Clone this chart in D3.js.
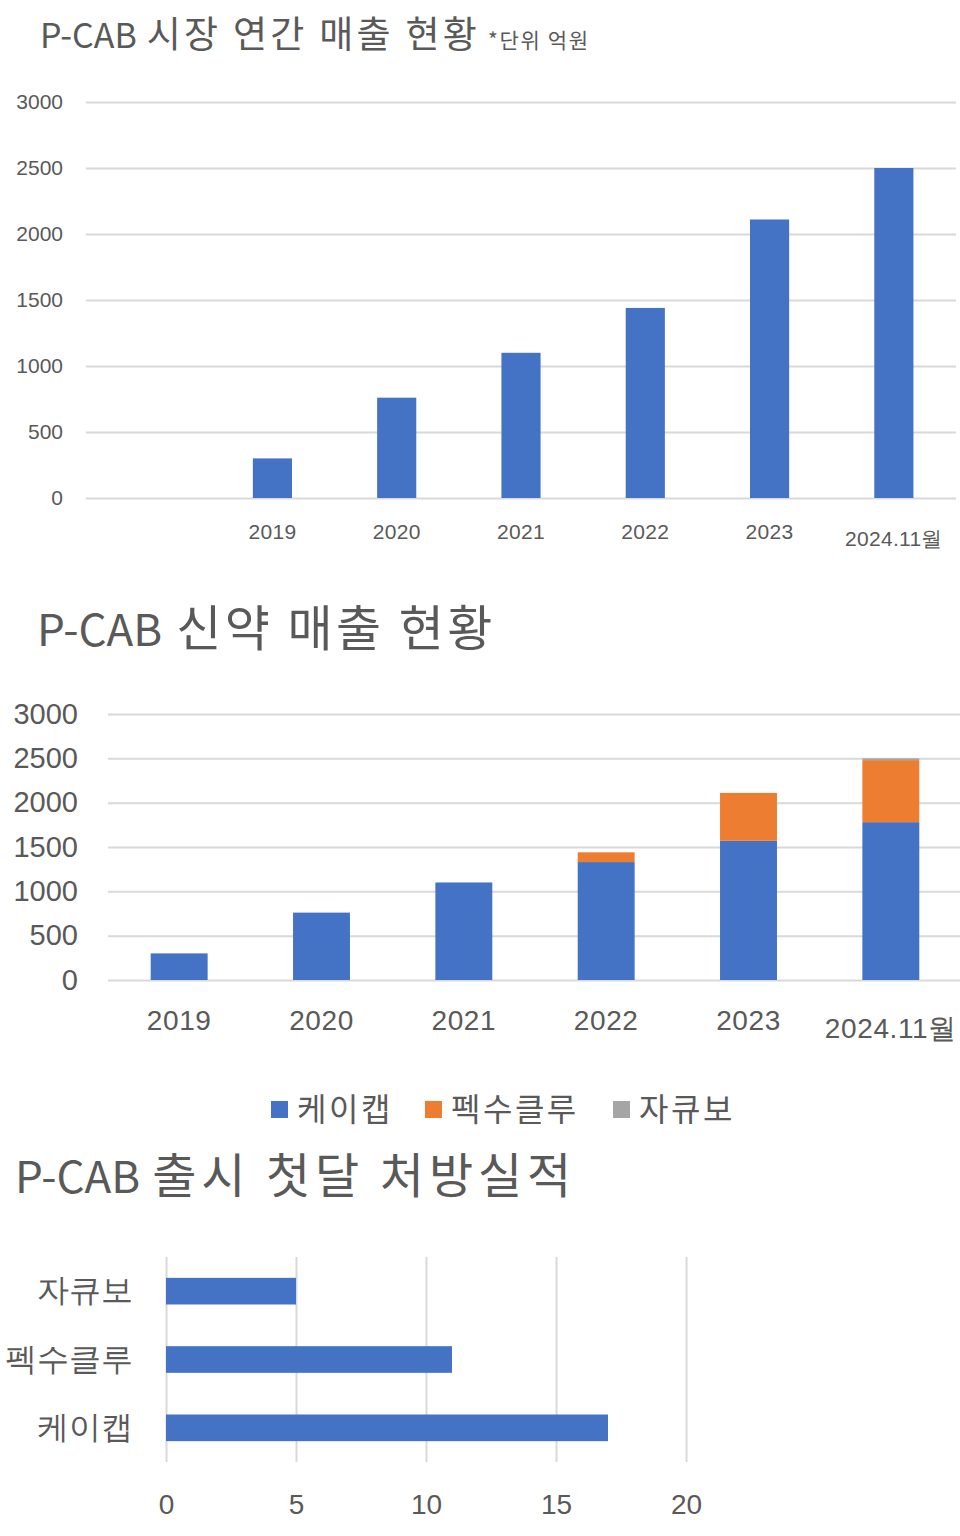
<!DOCTYPE html>
<html>
<head>
<meta charset="utf-8">
<script src="https://cdn.jsdelivr.net/npm/d3@7"></script>
<style>
  body { margin: 0; background: #fff; }
  svg { display: block; font-family: "Noto Sans CJK KR", "Noto Sans", sans-serif; }
  .axis .domain { display: none; }
  .axis text { fill: #595959; }
  .grid line { stroke: #d9d9d9; stroke-width: 2; }
</style>
</head>
<body>
<div id="chart"></div>
<script>
// chart 1 - annual market sales (unit: 100M won)
var years1 = ["", "2019", "2020", "2021", "2022", "2023", "2024.11월"];
var market = [null, 300, 760, 1100, 1440, 2110, 2500];

// chart 2 - sales by new drug (stacked)
var years2 = ["2019", "2020", "2021", "2022", "2023", "2024.11월"];
var drugs = ["케이캡", "펙수클루", "자큐보"];
var kcab = [300, 760, 1100, 1330, 1570, 1780];
var fexu = [0, 0, 0, 110, 540, 700];
var jaqbo = [0, 0, 0, 0, 0, 20];
var colors = ["#4472c4", "#ed7d31", "#a5a5a5"];

// chart 3 - first month prescriptions
var launchDrugs = ["자큐보", "펙수클루", "케이캡"];
var firstMonth = [5, 11, 17];

var yTicks = [0, 500, 1000, 1500, 2000, 2500, 3000];
var xTicks3 = [0, 5, 10, 15, 20];

var svg = d3.select('#chart').append('svg')
  .attr('width', 960)
  .attr('height', 1536);

// title: latin part + korean part (korean glyphs run bigger, like malgun gothic)
function title(g, x, y, latin, latinSize, kor, korSize, korWidth, gap) {
  var t = g.append('text')
    .attr('x', x).attr('y', y)
    .attr('fill', '#595959');
  t.append('tspan')
    .style('font-size', latinSize + 'px')
    .text(latin);
  t.append('tspan')
    .attr('dx', gap)
    .style('font-size', korSize + 'px')
    .attr('textLength', korWidth)
    .attr('lengthAdjust', 'spacing')
    .text(kor);
  return t;
}

// ---------- chart 1 ----------
var g1 = svg.append('g');

var t1 = title(g1, 40, 48, 'P-CAB', 34, '시장 연간 매출 현황', 37, 330, 10);
t1.append('tspan')
  .attr('dx', 8)
  .style('font-size', '21px')
  .attr('textLength', 100)
  .attr('lengthAdjust', 'spacing')
  .text('*단위 억원');

var x1 = d3.scaleBand().domain(years1).range([86, 956]);
var y1 = d3.scaleLinear().domain([0, 3000]).range([498, 102]);

g1.append('g')
  .attr('class', 'axis grid')
  .attr('transform', 'translate(86,0)')
  .call(d3.axisLeft(y1).tickValues(yTicks).tickFormat(d3.format('d')).tickSize(-870).tickPadding(23))
  .selectAll('text').style('font-size', '21px');

var bw1 = x1.bandwidth() * 0.315;
g1.selectAll('rect.bar')
  .data(market.map(function(v, i){ return {k: years1[i], v: v}; }).filter(function(d){ return d.v != null; }))
  .enter().append('rect')
  .attr('class', 'bar')
  .attr('x', function(d){ return x1(d.k) + x1.bandwidth() / 2 - bw1 / 2; })
  .attr('y', function(d){ return y1(d.v); })
  .attr('width', bw1)
  .attr('height', function(d){ return y1(0) - y1(d.v); })
  .attr('fill', '#4472c4');

g1.append('g')
  .attr('class', 'axis')
  .attr('transform', 'translate(0,498)')
  .call(d3.axisBottom(x1).tickSize(0).tickPadding(26))
  .selectAll('text')
  .style('font-size', '21px')
  .style('letter-spacing', '0.3px')
  .attr('dy', function(d){ return d.length > 4 ? '1.05em' : '0.71em'; });

// ---------- chart 2 ----------
var g2 = svg.append('g');

title(g2, 37, 646, 'P-CAB', 44, '신약 매출 현황', 49, 316, 14);

var x2 = d3.scaleBand().domain(years2).range([108, 962]);
var y2 = d3.scaleLinear().domain([0, 3000]).range([980, 714]);

g2.append('g')
  .attr('class', 'axis grid')
  .attr('transform', 'translate(108,0)')
  .call(d3.axisLeft(y2).tickValues(yTicks).tickFormat(d3.format('d')).tickSize(-852).tickPadding(30))
  .selectAll('text').style('font-size', '29px');

var table = years2.map(function(y, i){
  return {year: y, "케이캡": kcab[i], "펙수클루": fexu[i], "자큐보": jaqbo[i]};
});
var stacked = d3.stack().keys(drugs)(table);
var bw2 = x2.bandwidth() * 0.4;

g2.selectAll('g.layer')
  .data(stacked)
  .enter().append('g')
  .attr('class', 'layer')
  .attr('fill', function(d, i){ return colors[i]; })
  .selectAll('rect')
  .data(function(d){ return d.filter(function(p){ return p[1] > p[0]; }); })
  .enter().append('rect')
  .attr('x', function(d){ return x2(d.data.year) + x2.bandwidth() / 2 - bw2 / 2; })
  .attr('y', function(d){ return y2(d[1]); })
  .attr('width', bw2)
  .attr('height', function(d){ return y2(d[0]) - y2(d[1]); });

g2.append('g')
  .attr('class', 'axis')
  .attr('transform', 'translate(0,980)')
  .call(d3.axisBottom(x2).tickSize(0).tickPadding(30))
  .selectAll('text')
  .style('font-size', '28px')
  .style('letter-spacing', '0.6px')
  .attr('dy', function(d){ return d.length > 4 ? '1.0em' : '0.71em'; });

// legend
var legendX = [271, 425, 613];
var legend = g2.selectAll('g.legend')
  .data(drugs)
  .enter().append('g')
  .attr('class', 'legend')
  .attr('transform', function(d, i){ return 'translate(' + legendX[i] + ',1101)'; });
legend.append('rect')
  .attr('width', 17).attr('height', 17)
  .attr('fill', function(d, i){ return colors[i]; });
legend.append('text')
  .attr('x', 26).attr('y', 20)
  .attr('fill', '#595959')
  .style('font-size', '32px')
  .style('letter-spacing', '2.5px')
  .text(function(d){ return d; });

// ---------- chart 3 ----------
var g3 = svg.append('g');

title(g3, 15, 1193, 'P-CAB', 44, '출시 첫달 처방실적', 48, 419, 12);

var x3 = d3.scaleLinear().domain([0, 20]).range([166, 686]);
var y3 = d3.scaleBand().domain(launchDrugs).range([1257, 1462]);

g3.append('g')
  .attr('class', 'axis grid')
  .attr('transform', 'translate(0,1462)')
  .call(d3.axisBottom(x3).tickValues(xTicks3).tickSize(-205).tickPadding(32))
  .selectAll('text').style('font-size', '28px');

var bh3 = y3.bandwidth() * 0.39;
g3.selectAll('rect.hbar')
  .data(firstMonth.map(function(v, i){ return {k: launchDrugs[i], v: v}; }))
  .enter().append('rect')
  .attr('class', 'hbar')
  .attr('x', x3(0))
  .attr('y', function(d){ return y3(d.k) + y3.bandwidth() / 2 - bh3 / 2; })
  .attr('width', function(d){ return x3(d.v) - x3(0); })
  .attr('height', bh3)
  .attr('fill', '#4472c4');

g3.append('g')
  .attr('class', 'axis')
  .attr('transform', 'translate(166,0)')
  .call(d3.axisLeft(y3).tickSize(0).tickPadding(33))
  .selectAll('text').style('font-size', '32px');
</script>
</body>
</html>
